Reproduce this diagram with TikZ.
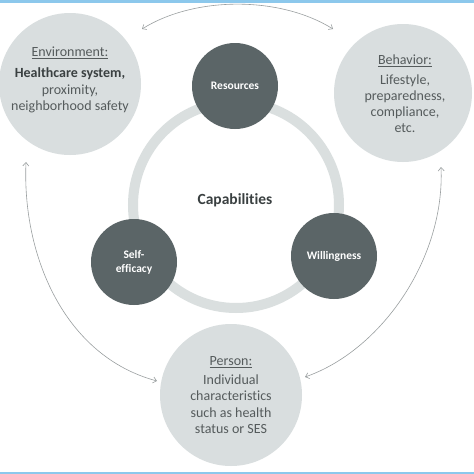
\documentclass[tikz,border=0pt]{standalone}
\usepackage{fontspec}
\setmainfont{Carlito}[Ligatures=NoCommon]
\usetikzlibrary{arrows.meta}
\definecolor{barblue}{HTML}{8CC8EC}
\definecolor{lightfill}{HTML}{D9DEDF}
\definecolor{darkfill}{HTML}{5B6567}
\definecolor{ringcol}{HTML}{DADFDF}
\definecolor{txtgray}{HTML}{555B5C}
\definecolor{txtdark}{HTML}{3A4041}
\definecolor{arrowcol}{HTML}{9A9FA0}
\tikzset{
  lightc/.style={circle, fill=lightfill, inner sep=0pt},
  darkc/.style={circle, fill=darkfill, inner sep=0pt, minimum size=86pt,
    text=white, font=\fontsize{11.5}{14}\selectfont\bfseries, align=center},
  bodytext/.style={align=center, text=txtgray, font=\fontsize{14}{16.3}\selectfont},
  linkarrow/.style={draw=arrowcol, line width=0.6pt,
    {Straight Barb[length=3.5pt,width=6pt]}-{Straight Barb[length=3.5pt,width=6pt]}}
}
\begin{document}
\begin{tikzpicture}[x=1pt,y=-1pt]
\useasboundingbox (0,0) rectangle (474,474);
\fill[white] (0,0) rectangle (474,474);
\fill[barblue] (0,0) rectangle (474,2.5);
\fill[barblue] (0,471.5) rectangle (474,474);

% outer circles
\node[lightc, minimum size=142pt] (env) at (70,84) {};
\node[lightc, minimum size=138pt] (beh) at (403,93) {};
\node[lightc, minimum size=142pt] (per) at (231,395) {};

\node[bodytext] (envtxt) at (70,80) {\underline{Environment:}\\[5pt]
  {\bfseries\color{txtdark}Healthcare system,}\\ proximity,\\ neighborhood safety};
\node[bodytext] (behtxt) at (405,94) {\underline{Behavior:}\\[3pt]
  Lifestyle,\\ preparedness,\\ compliance,\\ etc.};
\node[bodytext] (pertxt) at (231,395) {\underline{Person:}\\[3pt]
  Individual\\ characteristics\\ such as health\\ status or SES};

% ring
\node[circle, draw=ringcol, line width=10pt, minimum size=206pt, inner sep=0pt] (ring) at (236,205) {};
\node[text=txtdark, font=\fontsize{15.5}{18}\selectfont\bfseries] (cap) at (235,200) {Capabilities};

% dark circles
\node[darkc] (res) at (235,86) {Resources};
\node[darkc] (self) at (134,262) {Self-\\efficacy};
\node[darkc] (will) at (334,256) {Willingness};

% arrow end points
\coordinate (tl) at (142,29);
\coordinate (tr) at (333,29);
\coordinate (lt) at (26,162);
\coordinate (lb) at (157,381);
\coordinate (rt) at (441,167);
\coordinate (rb) at (305,377);

\draw[linkarrow] (tl) .. controls (195,-4) and (280,-4) .. (tr);
\draw[linkarrow] (lt) .. controls (22,255) and (64,356) .. (lb);
\draw[linkarrow] (rt) .. controls (445,258) and (382,350) .. (rb);
\end{tikzpicture}
\end{document}
